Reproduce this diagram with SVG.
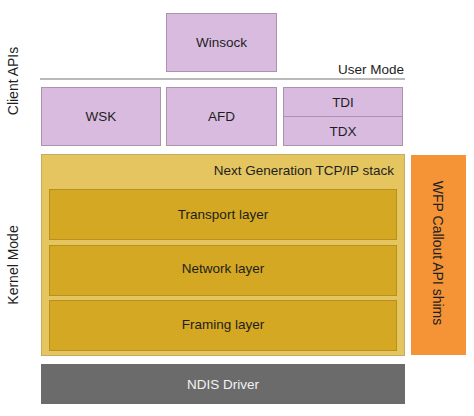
<svg xmlns="http://www.w3.org/2000/svg" width="474" height="416" viewBox="0 0 474 416">
<style>
text{font-family:"Liberation Sans",Arial,sans-serif;font-size:13.5px;fill:#1e1e1e}
.big{font-size:14px}
.api{fill:#d9bbe0;stroke:#a993ad;stroke-width:1}
.layer{fill:#d4a822;stroke:#b89020;stroke-width:1}
.c{text-anchor:middle}
</style>
<rect width="474" height="416" fill="#fff"/>
<g id="side-labels">
<text class="c big" transform="translate(18,81) rotate(-90)">Client APIs</text>
<text class="c big" transform="translate(18,265) rotate(-90)">Kernel Mode</text>
</g>
<g id="connectors">
<line x1="40" y1="79" x2="405" y2="79" stroke="#777" stroke-width="1.2"/>
<text x="404" y="74" text-anchor="end">User Mode</text>
</g>
<g id="winsock"><rect class="api" x="166.5" y="13.5" width="110" height="58"/><text class="c" x="221.5" y="47">Winsock</text></g>
<g id="wsk"><rect class="api" x="41.5" y="87.5" width="119" height="58"/><text class="c" x="101" y="121">WSK</text></g>
<g id="afd"><rect class="api" x="166.5" y="87.5" width="110" height="58"/><text class="c" x="221.5" y="121">AFD</text></g>
<g id="tdi"><rect class="api" x="283.5" y="87.5" width="119" height="29"/><text class="c" x="343" y="107">TDI</text></g>
<g id="tdx"><rect class="api" x="283.5" y="116.5" width="119" height="29"/><text class="c" x="343" y="136">TDX</text></g>
<g id="stack"><rect x="41.5" y="154.5" width="363" height="201" fill="#e5c560" stroke="#c4ab60" stroke-width="1"/><text x="394" y="175" text-anchor="end">Next Generation TCP/IP stack</text></g>
<g id="transport"><rect class="layer" x="49.5" y="189.5" width="347" height="50"/><text class="c" x="223" y="219">Transport layer</text></g>
<g id="network"><rect class="layer" x="49.5" y="245.5" width="347" height="50"/><text class="c" x="223" y="273">Network layer</text></g>
<g id="framing"><rect class="layer" x="49.5" y="300.5" width="347" height="50"/><text class="c" x="223" y="329">Framing layer</text></g>
<g id="wfp"><rect x="411" y="155" width="55" height="200" fill="#f59436"/><text class="c big" transform="translate(433,253) rotate(90)">WFP Callout API shims</text></g>
<g id="ndis"><rect x="41" y="364" width="364" height="40" fill="#6b6b6b"/><text class="c" x="223" y="389" style="fill:#f2f2f2">NDIS Driver</text></g>
</svg>
